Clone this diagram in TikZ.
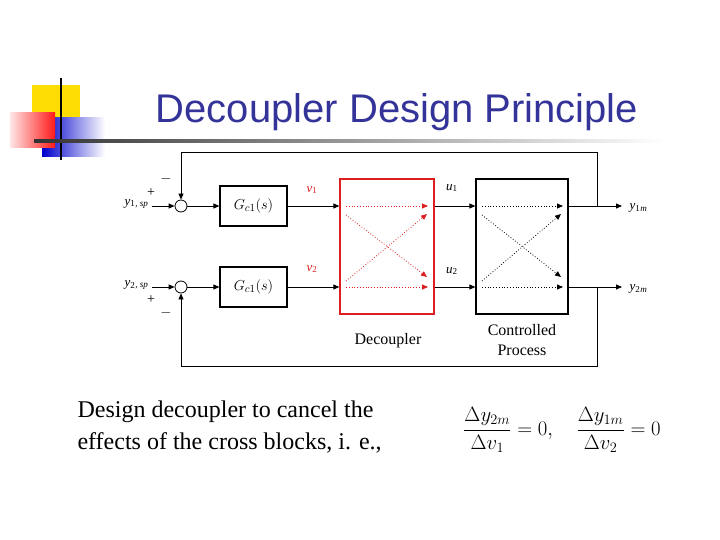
\documentclass[tikz,border=0pt]{standalone}
\usepackage{amsmath}
\usepackage{fontspec}
\setmainfont{Liberation Serif}
\newfontfamily\titlefont{Liberation Sans}
\usetikzlibrary{arrows.meta}
\definecolor{navy}{RGB}{51,51,153}
\definecolor{dred}{RGB}{220,30,30}
\begin{document}
\begin{tikzpicture}[x=1pt,y=-1pt,
  blk/.style={draw,line width=1.2pt},
  sig/.style={line width=0.8pt,-{Triangle[length=6pt,width=5pt]}},
  ln/.style={line width=0.8pt},
  dotr/.style={dotted,line width=0.8pt,dred,-{Triangle[length=6pt,width=5pt]}},
  dotk/.style={dotted,line width=0.8pt,-{Triangle[length=6pt,width=5pt]}},
  sum/.style={draw,circle,minimum size=12pt,inner sep=0pt,line width=0.8pt},
  lab/.style={font=\fontsize{13}{15}\selectfont\itshape}]
\useasboundingbox (0,0) rectangle (720,540);
% logo
\fill[yellow!80!orange] (32,85) rectangle (80,120);
\shade[left color=blue!80!black,right color=white] (42,118) rectangle (105,157);
\shade[left color=red!10,right color=red!90] (10,113) rectangle (55,148);
\draw[line width=1.5pt] (61,78) coordinate(lt) -- (61,160) coordinate(lb);
\shade[left color=black!80,right color=white] (34,140) rectangle (665,142.5);
\node[navy,font=\titlefont\fontsize{40}{44}\selectfont] (title) at (397,112) {Decoupler Design Principle};
% blocks
\node[sum] (s1) at (181,206) {};
\node[sum] (s2) at (181,287) {};
\node[blk,minimum width=67pt,minimum height=40pt] (g1) at (253.5,206) {\fontsize{15}{17}\selectfont$G_{c1}(s)$};
\node[blk,minimum width=67pt,minimum height=40pt] (g2) at (253.5,287) {\fontsize{15}{17}\selectfont$G_{c1}(s)$};
\node[draw=dred,line width=1.3pt,minimum width=94pt,minimum height=135pt] (dec) at (387,246.5) {};
\node[blk,minimum width=92pt,minimum height=135pt] (proc) at (522,246.5) {};
\node[font=\fontsize{16}{18}\selectfont] (decl) at (388,341) {Decoupler};
\node[font=\fontsize{16}{20}\selectfont,align=center] (procl) at (522,340) {Controlled\\Process};
% inputs
\node[anchor=east,lab] (y1sp) at (152,204) {y\textsubscript{\upshape 1}\textsubscript{, sp}};
\node[anchor=east,lab] (y2sp) at (152,285) {y\textsubscript{\upshape 2}\textsubscript{, sp}};
\draw[sig] (y1sp.east|-s1) -- (s1);
\draw[sig] (y2sp.east|-s2) -- (s2);
\node[font=\fontsize{14}{14}\selectfont] (p1) at (151,193) {+};
\node[font=\fontsize{14}{14}\selectfont] (m1) at (166,179) {$-$};
\node[font=\fontsize{14}{14}\selectfont] (p2) at (151,300) {+};
\node[font=\fontsize{14}{14}\selectfont] (m2) at (166,313) {$-$};
\draw[sig] (s1) -- (g1);
\draw[sig] (s2) -- (g2);
\draw[sig] (g1) -- (dec.west|-g1);
\draw[sig] (g2) -- (dec.west|-g2);
\draw[sig] (dec.east|-g1) -- (proc.west|-g1);
\draw[sig] (dec.east|-g2) -- (proc.west|-g2);
\coordinate (o1) at (622,206); \coordinate (o2) at (622,287);
\draw[sig] (proc.east|-g1) -- (o1);
\draw[sig] (proc.east|-g2) -- (o2);
\node[anchor=west,lab] (y1m) at (626,208) {y\textsubscript{\upshape 1}\textsubscript{m}};
\node[anchor=west,lab] (y2m) at (626,289) {y\textsubscript{\upshape 2}\textsubscript{m}};
\node[lab,dred] (v1) at (312,190) {v\textsubscript{\upshape 1}};
\node[lab,dred] (v2) at (312,269) {v\textsubscript{\upshape 2}};
\node[lab] (u1) at (452,188) {u\textsubscript{\upshape 1}};
\node[lab] (u2) at (452,271) {u\textsubscript{\upshape 2}};
% feedback
\coordinate (fb1) at (597,152); \coordinate (fb2) at (597,366);
\draw[ln] (proc.east|-g1) -| (fb1) -| (181,160);
\draw[sig] (181,160) -- (s1.north);
\draw[ln] (proc.east|-g2) -| (fb2) -| (181,300);
\draw[sig] (181,300) -- (s2.south);
% internal arrows
\draw[dotr] (346,206) -- (428,206);
\draw[dotr] (346,215) -- (427,277);
\draw[dotr] (346,281) -- (427,214);
\draw[dotr] (346,287) -- (428,287);
\draw[dotk] (482,206) -- (563,206);
\draw[dotk] (482,215) -- (561,277);
\draw[dotk] (482,281) -- (561,214);
\draw[dotk] (482,287) -- (563,287);
% bottom text
\node[anchor=west,align=left,font=\fontsize{24}{32}\selectfont] (txt) at (74,427) {Design decoupler to cancel the\\effects of the cross blocks, i. e.,};
\node[font=\fontsize{20}{24}\selectfont] (eq) at (562,430) {$\dfrac{\Delta y_{2m}}{\Delta v_1}=0,\quad\dfrac{\Delta y_{1m}}{\Delta v_2}=0$};
\end{tikzpicture}
\end{document}
